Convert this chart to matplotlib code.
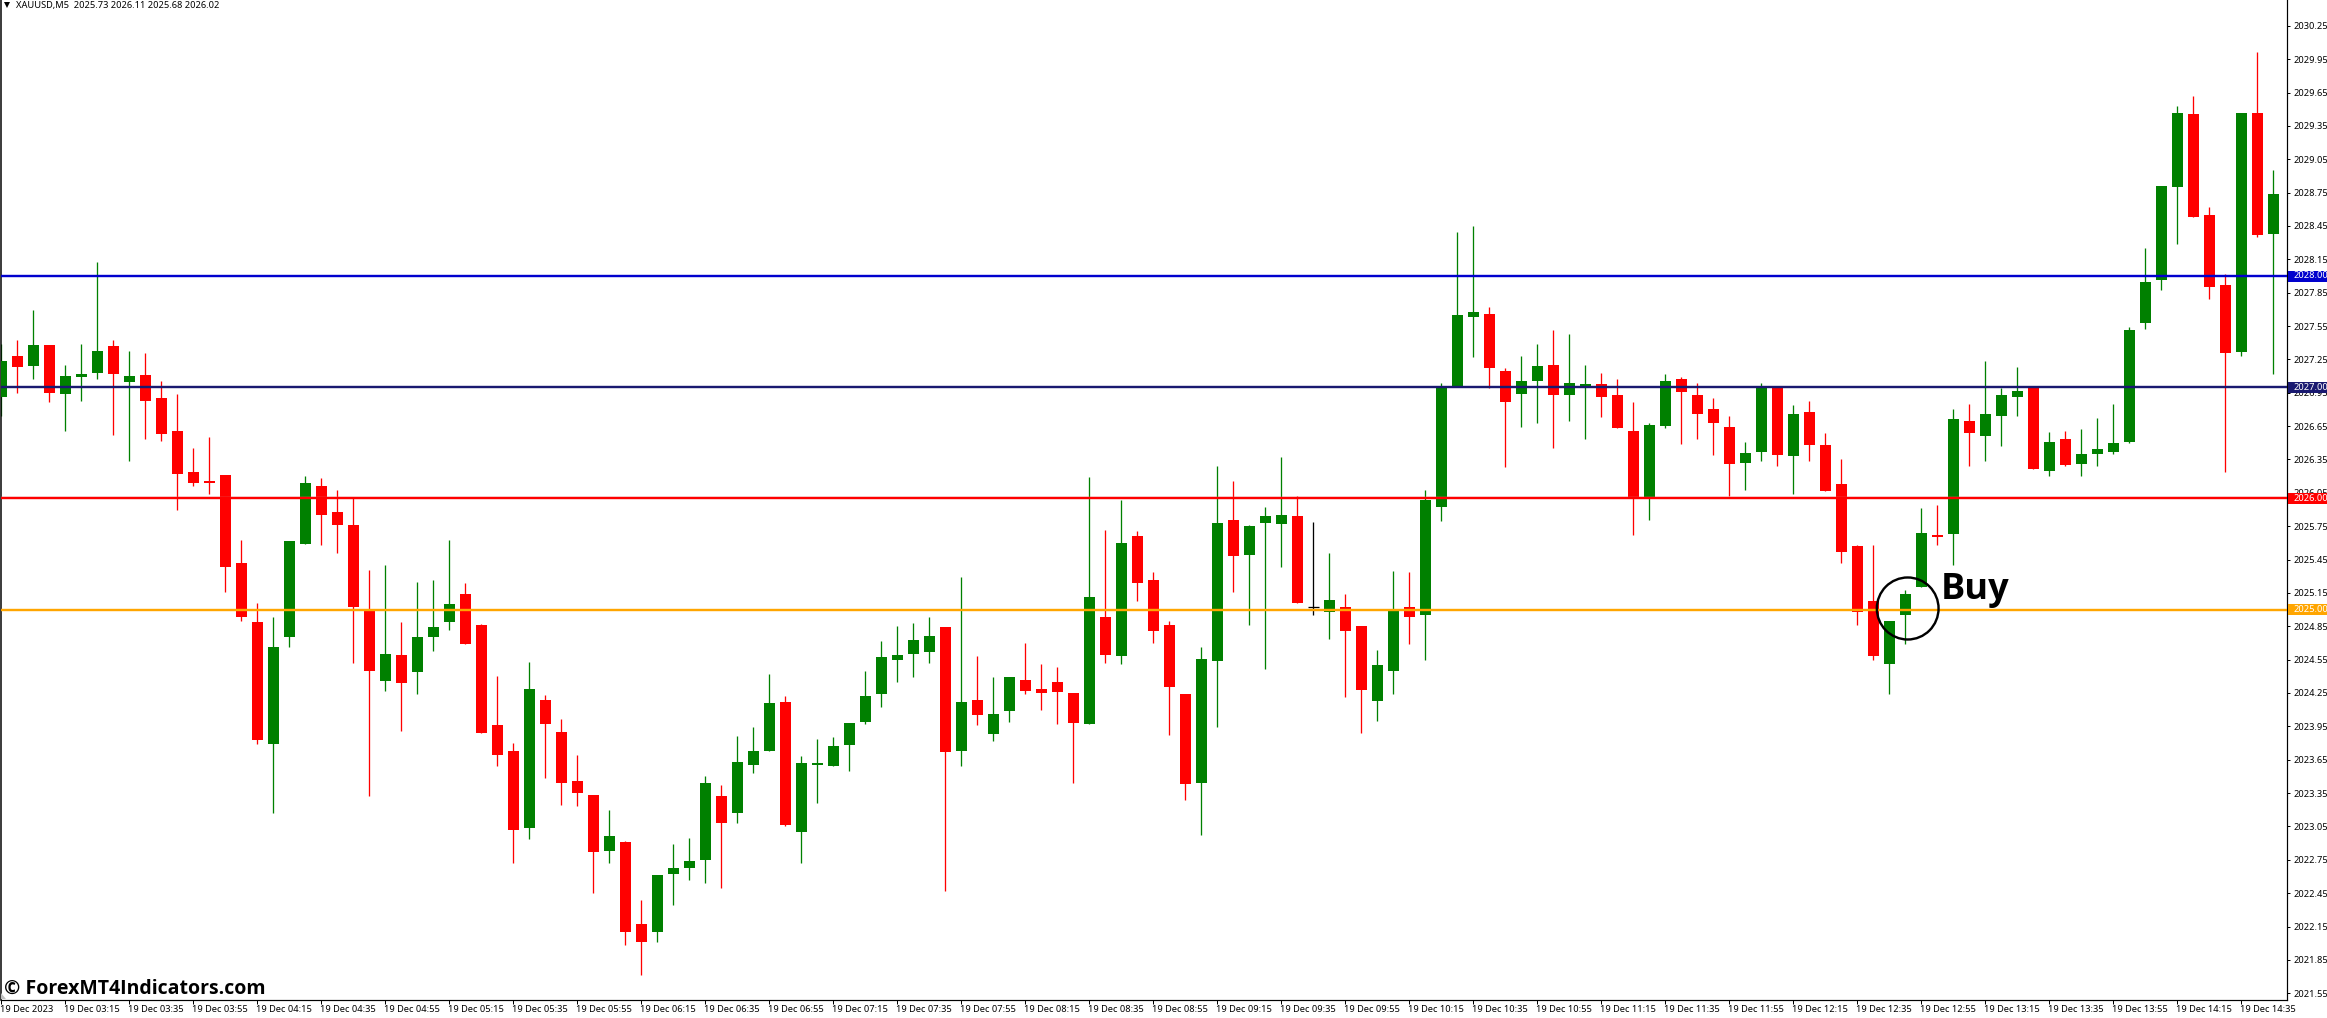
import matplotlib
matplotlib.use("Agg")
import matplotlib.pyplot as plt
import matplotlib.transforms as mtransforms
from matplotlib.patches import Ellipse, Polygon, Rectangle

# candles, one value per 5 minute bar
highs = [
    2027.39, 2027.42, 2027.69, 2027.38, 2027.20, 2027.39, 2028.13, 2027.42, 2027.33, 2027.31,
    2027.06, 2026.94, 2026.45, 2026.55, 2026.21, 2025.63, 2025.06, 2024.93, 2025.62, 2026.20,
    2026.18, 2026.08, 2026.00, 2025.36, 2025.40, 2024.89, 2025.25, 2025.27, 2025.63, 2025.24,
    2024.87, 2024.40, 2023.80, 2024.53, 2024.23, 2024.02, 2023.69, 2023.33, 2023.20, 2022.92,
    2022.39, 2022.61, 2022.89, 2022.95, 2023.50, 2023.42, 2023.86, 2023.94, 2024.42, 2024.22,
    2023.68, 2023.84, 2023.85, 2023.98, 2024.45, 2024.72, 2024.85, 2024.88, 2024.93, 2024.84,
    2025.29, 2024.58, 2024.39, 2024.39, 2024.70, 2024.51, 2024.48, 2024.25, 2026.19, 2025.72,
    2025.99, 2025.71, 2025.34, 2024.90, 2024.24, 2024.66, 2026.29, 2026.16, 2025.76, 2025.92,
    2026.37, 2026.02, 2025.79, 2025.51, 2025.14, 2024.85, 2024.64, 2025.35, 2025.34, 2026.08,
    2027.04, 2028.40, 2028.45, 2027.72, 2027.17, 2027.28, 2027.39, 2027.51, 2027.48, 2027.20,
    2027.13, 2027.07, 2026.87, 2026.68, 2027.12, 2027.09, 2027.04, 2026.90, 2026.74, 2026.51,
    2027.04, 2027.00, 2026.84, 2026.88, 2026.59, 2026.35, 2025.58, 2025.58, 2024.90, 2025.18,
    2025.91, 2025.94, 2026.80, 2026.85, 2027.24, 2026.99, 2027.18, 2027.00, 2026.60, 2026.61,
    2026.62, 2026.72, 2026.85, 2027.54, 2028.25, 2028.81, 2029.53, 2029.62, 2028.62, 2028.02,
    2029.47, 2030.01, 2028.95,
]
lows = [
    2026.74, 2026.95, 2027.07, 2026.87, 2026.61, 2026.88, 2027.07, 2026.57, 2026.34, 2026.53,
    2026.52, 2025.90, 2026.11, 2026.04, 2025.16, 2024.90, 2023.79, 2023.17, 2024.66, 2025.59,
    2025.58, 2025.51, 2024.52, 2023.32, 2024.27, 2023.91, 2024.24, 2024.63, 2024.82, 2024.69,
    2023.89, 2023.59, 2022.72, 2022.94, 2023.49, 2023.24, 2023.23, 2022.45, 2022.72, 2021.98,
    2021.71, 2022.01, 2022.34, 2022.57, 2022.54, 2022.50, 2023.08, 2023.53, 2023.73, 2023.05,
    2022.72, 2023.26, 2023.59, 2023.55, 2023.97, 2024.12, 2024.35, 2024.39, 2024.52, 2022.47,
    2023.59, 2023.96, 2023.82, 2023.99, 2024.24, 2024.10, 2023.97, 2023.44, 2023.97, 2024.52,
    2024.51, 2025.08, 2024.70, 2023.87, 2023.29, 2022.97, 2023.94, 2025.16, 2024.86, 2024.47,
    2025.38, 2025.06, 2024.95, 2024.74, 2024.21, 2023.89, 2024.00, 2024.24, 2024.69, 2024.55,
    2025.80, 2027.00, 2027.27, 2026.99, 2026.28, 2026.64, 2026.68, 2026.45, 2026.70, 2026.53,
    2026.73, 2026.63, 2025.67, 2025.81, 2026.63, 2026.49, 2026.53, 2026.39, 2026.02, 2026.08,
    2026.34, 2026.29, 2026.04, 2026.34, 2026.07, 2025.42, 2024.86, 2024.55, 2024.24, 2024.69,
    2025.20, 2025.58, 2025.40, 2026.29, 2026.34, 2026.47, 2026.74, 2026.26, 2026.20, 2026.29,
    2026.20, 2026.29, 2026.40, 2026.50, 2027.52, 2027.87, 2028.29, 2028.53, 2027.79, 2026.24,
    2027.28, 2028.35, 2027.12,
]
opens = [
    2026.91, 2027.28, 2027.19, 2027.38, 2026.94, 2027.09, 2027.13, 2027.37, 2027.05, 2027.11,
    2026.90, 2026.61, 2026.24, 2026.16, 2026.21, 2025.42, 2024.89, 2023.79, 2024.75, 2025.59,
    2026.11, 2025.88, 2025.76, 2024.99, 2024.36, 2024.59, 2024.44, 2024.75, 2024.89, 2025.14,
    2024.86, 2023.96, 2023.73, 2023.04, 2024.19, 2023.90, 2023.46, 2023.33, 2022.83, 2022.91,
    2022.17, 2022.10, 2022.62, 2022.68, 2022.75, 2023.32, 2023.17, 2023.60, 2023.73, 2024.17,
    2023.00, 2023.60, 2023.59, 2023.78, 2023.99, 2024.24, 2024.55, 2024.60, 2024.62, 2024.84,
    2023.73, 2024.19, 2023.88, 2024.09, 2024.37, 2024.29, 2024.35, 2024.25, 2023.97, 2024.93,
    2024.58, 2025.66, 2025.27, 2024.86, 2024.24, 2023.44, 2024.54, 2025.81, 2025.49, 2025.78,
    2025.77, 2025.84, 2025.02, 2024.98, 2025.02, 2024.85, 2024.18, 2024.45, 2025.02, 2024.95,
    2025.92, 2027.00, 2027.63, 2027.66, 2027.15, 2026.94, 2027.06, 2027.20, 2026.93, 2027.01,
    2027.03, 2026.93, 2026.61, 2026.01, 2026.65, 2027.07, 2026.93, 2026.80, 2026.64, 2026.32,
    2026.42, 2027.00, 2026.38, 2026.78, 2026.48, 2026.13, 2025.57, 2025.08, 2024.51, 2024.95,
    2025.20, 2025.67, 2025.68, 2026.70, 2026.56, 2026.74, 2026.91, 2027.00, 2026.25, 2026.53,
    2026.31, 2026.40, 2026.42, 2026.51, 2027.58, 2027.96, 2028.80, 2029.46, 2028.55, 2027.92,
    2027.32, 2029.47, 2028.38,
]
closes = [
    2027.24, 2027.18, 2027.38, 2026.95, 2027.10, 2027.12, 2027.33, 2027.12, 2027.10, 2026.88,
    2026.58, 2026.22, 2026.14, 2026.14, 2025.38, 2024.93, 2023.83, 2024.66, 2025.62, 2026.14,
    2025.85, 2025.76, 2025.02, 2024.45, 2024.60, 2024.34, 2024.75, 2024.84, 2025.05, 2024.69,
    2023.89, 2023.69, 2023.02, 2024.29, 2023.97, 2023.44, 2023.35, 2022.82, 2022.96, 2022.10,
    2022.01, 2022.61, 2022.68, 2022.74, 2023.44, 2023.08, 2023.63, 2023.73, 2024.16, 2023.06,
    2023.62, 2023.62, 2023.77, 2023.98, 2024.22, 2024.57, 2024.59, 2024.73, 2024.76, 2023.72,
    2024.17, 2024.05, 2024.06, 2024.39, 2024.27, 2024.25, 2024.26, 2023.98, 2025.11, 2024.59,
    2025.60, 2025.24, 2024.81, 2024.30, 2023.43, 2024.56, 2025.78, 2025.48, 2025.75, 2025.84,
    2025.85, 2025.06, 2025.02, 2025.09, 2024.81, 2024.28, 2024.50, 2025.00, 2024.93, 2025.99,
    2027.00, 2027.65, 2027.68, 2027.17, 2026.87, 2027.06, 2027.19, 2026.93, 2027.04, 2027.03,
    2026.91, 2026.63, 2026.01, 2026.66, 2027.06, 2026.96, 2026.76, 2026.68, 2026.31, 2026.41,
    2027.00, 2026.39, 2026.76, 2026.48, 2026.07, 2025.52, 2024.98, 2024.58, 2024.90, 2025.14,
    2025.69, 2025.65, 2026.71, 2026.59, 2026.76, 2026.93, 2026.97, 2026.26, 2026.51, 2026.30,
    2026.40, 2026.44, 2026.50, 2027.51, 2027.95, 2028.81, 2029.47, 2028.53, 2027.90, 2027.31,
    2029.47, 2028.37, 2028.74,
]

price_ticks = [
    2030.25, 2029.95, 2029.65, 2029.35, 2029.05, 2028.75, 2028.45, 2028.15, 2027.85, 2027.55,
    2027.25, 2026.95, 2026.65, 2026.35, 2026.05, 2025.75, 2025.45, 2025.15, 2024.85, 2024.55,
    2024.25, 2023.95, 2023.65, 2023.35, 2023.05, 2022.75, 2022.45, 2022.15, 2021.85, 2021.55,
]
time_labels = [
    "19 Dec 2023", "19 Dec 03:15", "19 Dec 03:35", "19 Dec 03:55", "19 Dec 04:15", "19 Dec 04:35",
    "19 Dec 04:55", "19 Dec 05:15", "19 Dec 05:35", "19 Dec 05:55", "19 Dec 06:15", "19 Dec 06:35",
    "19 Dec 06:55", "19 Dec 07:15", "19 Dec 07:35", "19 Dec 07:55", "19 Dec 08:15", "19 Dec 08:35",
    "19 Dec 08:55", "19 Dec 09:15", "19 Dec 09:35", "19 Dec 09:55", "19 Dec 10:15", "19 Dec 10:35",
    "19 Dec 10:55", "19 Dec 11:15", "19 Dec 11:35", "19 Dec 11:55", "19 Dec 12:15", "19 Dec 12:35",
    "19 Dec 12:55", "19 Dec 13:15", "19 Dec 13:35", "19 Dec 13:55", "19 Dec 14:15", "19 Dec 14:35",
]
levels = [2028.00, 2027.00, 2026.00, 2025.00]
level_colors = ["#0000CD", "#191970", "#FF0000", "#FFA500"]

W, H = 2327, 1018
DPI = 100
PX = 72 / DPI  # one pixel in points
AX_LEFT, AX_RIGHT, AX_BOTTOM = 1, 2287, 999.5
BAR_STEP = 16.0
BODY = 11 / BAR_STEP
PX_PER_PRICE = 111.2
FONT = "Noto Sans"
LABEL_SIZE = 6.7

fig = plt.figure(figsize=(W / DPI, H / DPI), dpi=DPI, facecolor="white")
ax = fig.add_axes([AX_LEFT / W, (H - AX_BOTTOM) / H, (AX_RIGHT - AX_LEFT) / W, AX_BOTTOM / H])
ax.set_xlim((AX_LEFT - 1.3) / BAR_STEP, (AX_RIGHT - 1.3) / BAR_STEP)
ax.set_ylim(2028 - (AX_BOTTOM - 276) / PX_PER_PRICE, 2028 + 276 / PX_PER_PRICE)

# wicks and bodies
for i in range(len(opens)):
    if closes[i] > opens[i]:
        col = "#008000"
    elif closes[i] < opens[i]:
        col = "#FF0000"
    else:
        col = "black"
    ax.vlines(i, lows[i], highs[i], color=col, lw=1.3 * PX, zorder=2, snap=True)
    if closes[i] == opens[i]:
        ax.hlines(opens[i], i - BODY / 2, i + BODY / 2, color=col, lw=1.3 * PX, zorder=3, snap=True)
    else:
        ax.bar(i, abs(closes[i] - opens[i]), bottom=min(opens[i], closes[i]), width=BODY,
               color=col, linewidth=0, zorder=3)

# horizontal levels, the 2026 one has a pale line sitting on top of it
ax.axhline(2026.016, color="#C8C8C8", lw=1.3 * PX, zorder=4)
for lev, col in zip(levels, level_colors):
    ax.axhline(lev, color=col, lw=2.4 * PX, zorder=5)

# axes
ax.spines["top"].set_visible(False)
ax.spines["left"].set_linewidth(1.5 * PX)
ax.spines["right"].set_linewidth(1.2 * PX)
ax.spines["bottom"].set_linewidth(1.2 * PX)
ax.yaxis.tick_right()
ax.set_yticks(price_ticks)
ax.set_yticklabels([f"{p:.2f}" for p in price_ticks], fontsize=LABEL_SIZE, family=FONT)
ax.set_xticks(list(range(0, 4 * len(time_labels), 4)))
ax.set_xticklabels(time_labels, fontsize=LABEL_SIZE, family=FONT, ha="left")
ax.tick_params(axis="y", length=3.2 * PX, width=1 * PX, pad=3 * PX)
ax.tick_params(axis="x", length=3.5 * PX, width=1 * PX, pad=2 * PX)
shift = mtransforms.ScaledTranslation(-1.5 / DPI, 0, fig.dpi_scale_trans)
for lab in ax.get_xticklabels():
    lab.set_transform(lab.get_transform() + shift)

# coloured price tags on the right hand axis
tag_trans = ax.get_yaxis_transform()
for lev, col in zip(levels, level_colors):
    ax.add_patch(Rectangle((1 + 1.5 / (AX_RIGHT - AX_LEFT), lev - 5.5 / PX_PER_PRICE), 42 / (AX_RIGHT - AX_LEFT),
                           11 / PX_PER_PRICE, transform=tag_trans, facecolor=col, edgecolor="none",
                           clip_on=False, zorder=9))
    ax.text(1 + 6.3 / (AX_RIGHT - AX_LEFT), lev, f"{lev:.2f}", transform=tag_trans, color="white",
            fontsize=LABEL_SIZE, family=FONT, va="center", ha="left", clip_on=False, zorder=10)

# buy marker
ax.add_patch(Ellipse((119.15, 2025.01), 61.7 / BAR_STEP, 62 / PX_PER_PRICE, facecolor="none",
                     edgecolor="black", lw=2.4 * PX, zorder=7))
fig.text(1941 / W, 1 - 598.5 / H, "Buy", fontsize=26, fontweight="bold", family="Open Sans",
         color="black", va="baseline", ha="left", zorder=8)

# header and watermark
ax.plot([0.33], [2030.435], marker="v", ms=6 * PX, color="black", mew=0, clip_on=False, zorder=8)
fig.text(16 / W, 1 - 5.7 / H, "XAUUSD,M5  2025.73 2026.11 2025.68 2026.02", fontsize=LABEL_SIZE, family=FONT,
         color="black", va="center", ha="left")
fig.text(4 / W, 1 - 994 / H, "\u00a9 ForexMT4Indicators.com", fontsize=14, fontweight="bold",
         family="Open Sans", color="black", va="baseline", ha="left", zorder=8)
fig.add_artist(Polygon([(1 / W, 1 - 993 / H), (1 / W, 1 - 999 / H), (6 / W, 1 - 999 / H)],
                       transform=fig.transFigure, facecolor="#C0C0C0", edgecolor="none"))

fig.savefig("out.png", dpi=DPI)
